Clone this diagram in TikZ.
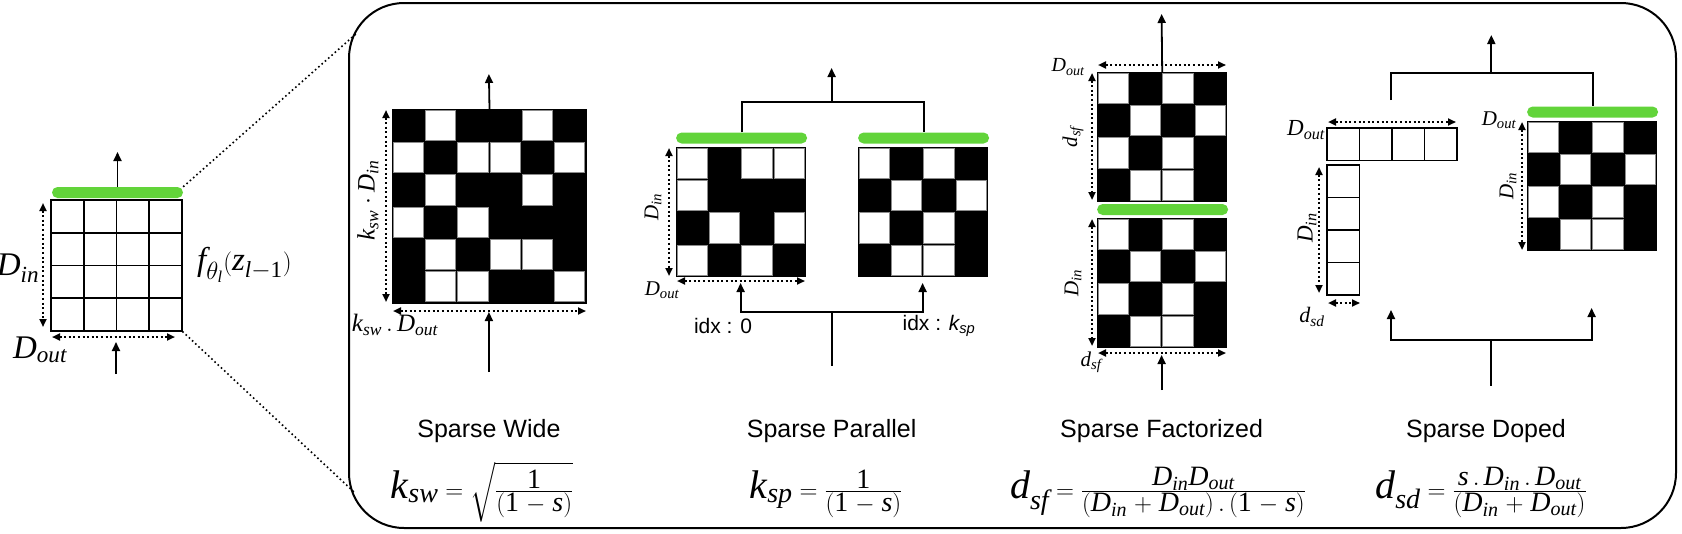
\documentclass[tikz,border=0pt]{standalone}
\usepackage{fontspec}
\usepackage{amsmath}
\setmainfont{Liberation Serif}
\setsansfont{Liberation Sans}
\usetikzlibrary{arrows.meta,calc}
\definecolor{gbarc}{RGB}{98,212,58}
\newcommand{\mi}[1]{\text{\itshape #1}}
\newcommand{\Din}{\mi{D}_{\mi{in}}}
\newcommand{\Dout}{\mi{D}_{\mi{out}}}
\newcommand{\fsz}[1]{\fontsize{#1}{#1}\selectfont}
\newcommand{\bop}[1]{\;{#1}\;}
\def\cellsz{32.3}
\newcommand{\spmat}[6]{%
  \fill[black] (#2,#3) rectangle ++({#4*\cellsz},{#5*\cellsz});
  \foreach \rw [count=\ri from 0] in {#6} {
    \foreach \vv [count=\ci from 0] in \rw {
      \ifnum\vv=0
        \filldraw[wcell] ({#2+\ci*\cellsz+1},{#3+\ri*\cellsz+1}) rectangle ++({\cellsz-2},{\cellsz-2});
      \fi
    }
  }
  \node[matframe, minimum width={#4*\cellsz*1pt}, minimum height={#5*\cellsz*1pt}, anchor=north west] (#1) at (#2,#3) {};
}
\newcommand{\wmat}[6]{%
  \foreach \ri in {1,...,#5} {
    \foreach \ci in {1,...,#4} {
      \draw[gline] ({#2+(\ci-1)*#6},{#3+(\ri-1)*#6}) rectangle ++(#6,#6);
    }
  }
  \node[inner sep=0pt, minimum width={#4*#6*1pt}, minimum height={#5*#6*1pt}, anchor=north west] (#1) at (#2,#3) {};
}
\tikzset{
  wcell/.style={fill=white, draw=black!45, line width=0.7pt},
  matframe/.style={draw=black, line width=1.2pt, inner sep=0pt},
  gline/.style={draw=black, line width=1.8pt},
  arr/.style={line width=1.8pt, -{Triangle[length=9pt,width=8pt]}},
  conn/.style={line width=1.8pt},
  darr/.style={line width=2pt, dash pattern=on 2pt off 2.6pt, {Triangle[length=8pt,width=7pt]}-{Triangle[length=8pt,width=7pt]}},
  zoomline/.style={line width=1.6pt, dash pattern=on 1.6pt off 2.8pt},
  gbar/.style={fill=gbarc, rounded corners=5.5pt, inner sep=0pt, minimum height=11pt, minimum width=131pt},
  title/.style={font=\sffamily\fsz{25}, anchor=base},
  formula/.style={font=\fsz{40}, anchor=base},
  lab/.style={inner sep=0pt},
}
\begin{document}
\begin{tikzpicture}[x=1pt,y=-1pt]
\useasboundingbox (0,0) rectangle (1682,533);

% ---------------- left dense layer ----------------
\wmat{Lg}{51}{200}{4}{4}{32.75}
\node[gbar] (gL) at (117.5,192.5) {};
\coordinate (Ltop) at (117.5,152);
\draw[arr] (gL.north) -- (Ltop);
\coordinate (Lin) at (116,374);
\coordinate (Ltip) at (116,342);
\draw[arr] (Lin) -- (Ltip);
\coordinate (Lv1) at (43,203); \coordinate (Lv2) at (43,327);
\draw[darr] (Lv1) -- (Lv2);
\coordinate (Lh1) at (52,337); \coordinate (Lh2) at (175,337);
\draw[darr] (Lh1) -- (Lh2);
\node[lab, font=\fsz{33}] (LDin) at (18,268) {$\Din$};
\node[lab, font=\fsz{33}] (LDout) at (40,350) {$\Dout$};
\node[lab, font=\fsz{33}, anchor=west] (Lf) at (197,265) {$\mi{f}_{\theta_{\mi{l}}}(\mi{z}_{\mi{l}-\text{1}})$};

% ---------------- big box and zoom lines ----------------
\node[draw, line width=2pt, rounded corners=55pt, inner sep=0pt, minimum width=1327pt, minimum height=525pt] (box) at (1012.5,265.5) {};
\coordinate (zA) at (357,33);
\coordinate (zB) at (355,493);
\draw[zoomline] (gL.north east) -- (zA);
\draw[zoomline] (Lg.south east) -- (zB);

% ---------------- Sparse Wide ----------------
\spmat{W}{392}{109}{6}{6}{{1,0,1,1,0,1},{0,1,0,0,1,0},{1,0,1,1,0,1},{0,1,0,1,1,1},{1,0,1,0,0,1},{1,0,0,1,1,0}}
\coordinate (Wtop) at (488.9,74);
\draw[arr] (W.north) -- (Wtop);
\coordinate (Win) at (488.9,372); \coordinate (Wtip) at (488.9,312);
\draw[arr] (Win) -- (Wtip);
\coordinate (Wv1) at (386,110); \coordinate (Wv2) at (386,302);
\draw[darr] (Wv1) -- (Wv2);
\coordinate (Wh1) at (393,311); \coordinate (Wh2) at (586,311);
\draw[darr] (Wh1) -- (Wh2);
\node[lab, font=\fsz{25}, rotate=90] (WDin) at (368,200) {$\mi{k}_{\mi{sw}}\cdot\Din$};
\node[lab, font=\fsz{25}] (WDout) at (395,325) {$\mi{k}_{\mi{sw}}\,.\,\Dout$};

% ---------------- Sparse Parallel ----------------
\spmat{P1}{676}{147}{4}{4}{{0,1,0,0},{0,1,1,1},{1,0,1,0},{0,1,0,1}}
\spmat{P2}{858}{147}{4}{4}{{0,1,0,1},{1,0,1,0},{0,1,0,1},{1,0,0,1}}
\node[gbar] (gP1) at (741.6,138) {};
\node[gbar] (gP2) at (923.6,138) {};
\coordinate (Pj) at (831.6,102);
\draw[conn] (gP1.north) |- (Pj) -| (gP2.north);
\coordinate (Ptop) at (831.6,68);
\draw[arr] (Pj) -- (Ptop);
\coordinate (Pb) at (831.6,312); \coordinate (Pbot) at (831.6,366);
\coordinate (P1t) at (740.6,283); \coordinate (P2t) at (922.6,283);
\draw[arr] (Pb) -| (P1t);
\draw[arr] (Pb) -| (P2t);
\draw[conn] (Pb) -- (Pbot);
\coordinate (Pv1) at (669,148); \coordinate (Pv2) at (669,276);
\draw[darr] (Pv1) -- (Pv2);
\coordinate (Ph1) at (677,281); \coordinate (Ph2) at (805,281);
\draw[darr] (Ph1) -- (Ph2);
\node[lab, font=\fsz{21}, rotate=90] (PDin) at (653,207) {$\Din$};
\node[lab, font=\fsz{21}] (PDout) at (662,290) {$\Dout$};
\node[lab, font=\sffamily\fsz{21}] (idx0) at (723,326) {idx : 0};
\node[lab, font=\sffamily\fsz{21}] (idxk) at (939,326) {idx : $\mi{k}_{\mi{sp}}$};

% ---------------- Sparse Factorized ----------------
\spmat{F1}{1097}{72}{4}{4}{{0,1,0,1},{1,0,1,0},{0,1,0,1},{1,0,0,1}}
\spmat{F2}{1097}{218}{4}{4}{{0,1,0,1},{1,0,1,0},{0,1,0,1},{1,0,0,1}}
\node[gbar] (gF) at (1162.6,209.5) {};
\coordinate (Ftop) at (1161.6,14);
\draw[arr] (F1.north) -- (Ftop);
\coordinate (Fin) at (1161.6,390); \coordinate (Ftip) at (1161.6,355);
\draw[arr] (Fin) -- (Ftip);
\coordinate (Fh1) at (1098,65); \coordinate (Fh2) at (1226,65);
\draw[darr] (Fh1) -- (Fh2);
\coordinate (Fv1) at (1092,73); \coordinate (Fv2) at (1092,200);
\draw[darr] (Fv1) -- (Fv2);
\coordinate (Fv3) at (1092,219); \coordinate (Fv4) at (1092,346);
\draw[darr] (Fv3) -- (Fv4);
\coordinate (Fh3) at (1098,353); \coordinate (Fh4) at (1226,353);
\draw[darr] (Fh3) -- (Fh4);
\node[lab, font=\fsz{20}] (FDout) at (1068,67) {$\Dout$};
\node[lab, font=\fsz{21}, rotate=90] (Fdsf) at (1073,137) {$\mi{d}_{\mi{sf}}$};
\node[lab, font=\fsz{21}, rotate=90] (FDin) at (1073,283) {$\Din$};
\node[lab, font=\fsz{21}] (Fdsf2) at (1091,362) {$\mi{d}_{\mi{sf}}$};

% ---------------- Sparse Doped ----------------
\wmat{Dr}{1327}{128}{4}{1}{32.5}
\wmat{Dc}{1327}{165}{1}{4}{32.5}
\spmat{D2}{1527}{121}{4}{4}{{0,1,0,1},{1,0,1,0},{0,1,0,1},{1,0,0,1}}
\node[gbar] (gD2) at (1592.6,112) {};
\coordinate (Dl) at (1391,100); \coordinate (Dj) at (1491.3,73);
\draw[conn] (Dl) |- (Dj) -| (gD2.north);
\coordinate (Dtop) at (1491.3,35);
\draw[arr] (Dj) -- (Dtop);
\coordinate (Db) at (1491.3,340); \coordinate (Dbot) at (1491.3,386);
\coordinate (Dlt) at (1391,310); \coordinate (Drt) at (1591.6,308);
\draw[arr] (Db) -| (Dlt);
\draw[arr] (Db) -| (Drt);
\draw[conn] (Db) -- (Dbot);
\coordinate (Dh1) at (1328,122); \coordinate (Dh2) at (1456,122);
\draw[darr] (Dh1) -- (Dh2);
\coordinate (Dv1) at (1319,167); \coordinate (Dv2) at (1319,293);
\draw[darr] (Dv1) -- (Dv2);
\coordinate (Dh3) at (1328,303); \coordinate (Dh4) at (1360,303);
\draw[darr] (Dh3) -- (Dh4);
\coordinate (Dv3) at (1522,122); \coordinate (Dv4) at (1522,250);
\draw[darr] (Dv3) -- (Dv4);
\node[lab, font=\fsz{23}] (DDout) at (1306,130) {$\Dout$};
\node[lab, font=\fsz{23}, rotate=90] (DDin) at (1307,228) {$\Din$};
\node[lab, font=\fsz{22}] (Ddsd) at (1312,317) {$\mi{d}_{\mi{sd}}$};
\node[lab, font=\fsz{21}] (DDout2) at (1499,120) {$\Dout$};
\node[lab, font=\fsz{21}, rotate=90] (DDin2) at (1508,186) {$\Din$};

% ---------------- titles and formulas ----------------
\node[title] (tW) at (488.9,437) {Sparse Wide};
\node[title] (tP) at (831.6,437) {Sparse Parallel};
\node[title] (tF) at (1161.6,437) {Sparse Factorized};
\node[title] (tD) at (1486,437) {Sparse Doped};
\node[formula] (fW) at (482,498) {$\mi{k}_{\mi{sw}} = \sqrt{\frac{\text{1}}{(\text{1}\bop{-}\mi{s})}}$};
\node[formula] (fP) at (826,498) {$\mi{k}_{\mi{sp}} = \frac{\text{1}}{(\text{1}\bop{-}\mi{s})}$};
\node[formula] (fF) at (1158,498) {$\mi{d}_{\mi{sf}} = \frac{\Din\Dout}{(\Din\bop{+}\Dout)\,.\,(\text{1}\bop{-}\mi{s})}$};
\node[formula] (fD) at (1481,498) {$\mi{d}_{\mi{sd}} = \frac{\mi{s}\,.\,\Din\,.\,\Dout}{(\Din\bop{+}\Dout)}$};
\end{tikzpicture}
\end{document}
